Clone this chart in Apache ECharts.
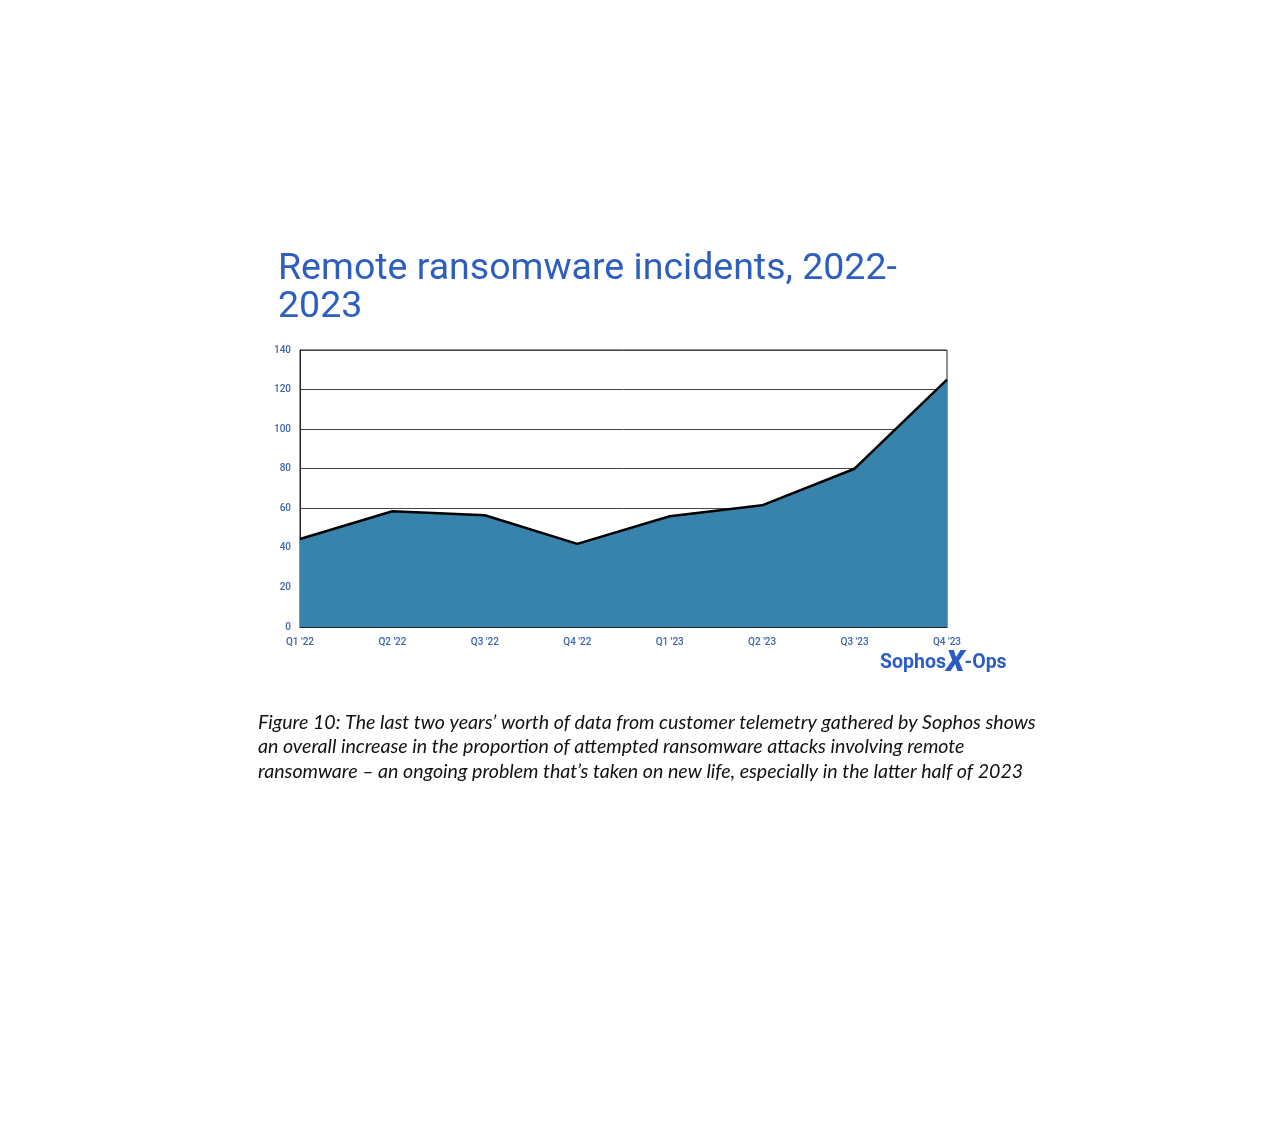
<!DOCTYPE html>
<html>
<head>
<meta charset="utf-8">
<script src="https://cdn.jsdelivr.net/npm/echarts@6/dist/echarts.min.js"></script>
<style>
html,body{margin:0;padding:0;background:#fff;}
#main{width:1278px;height:1124px;}
</style>
</head>
<body>
<div id="main"></div>
<script>
const categories = ["Q1 '22", "Q2 '22", "Q3 '22", "Q4 '22", "Q1 '23", "Q2 '23", "Q3 '23", "Q4 '23"];
const incidents = [44.5, 58.5, 56.5, 42, 56, 61.5, 80, 125];
const titleLines = ["Remote ransomware incidents, 2022-", "2023"];
const captionLines = [
  "Figure 10: The last two years\u2019 worth of data from customer telemetry gathered by Sophos shows",
  "an overall increase in the proportion of attempted ransomware attacks involving remote",
  "ransomware \u2013 an ongoing problem that\u2019s taken on new life, especially in the latter half of 2023"
];

const chart = echarts.init(document.getElementById('main'), null, {renderer: 'canvas'});
const blue = '#2e5fbf';
const labelBlue = '#3f64ae';

chart.setOption({
  backgroundColor: '#ffffff',
  animation: false,
  grid: {left: 300, right: 331, top: 350, bottom: 497, show: true, borderColor: '#222', borderWidth: 1, backgroundColor: 'transparent'},
  xAxis: {
    type: 'category',
    data: categories,
    boundaryGap: false,
    axisLine: {show: true, lineStyle: {color: '#222', width: 1}},
    axisTick: {show: false},
    axisLabel: {color: labelBlue, fontFamily: 'Roboto', fontSize: 10, fontWeight: 500, margin: 10, interval: 0}
  },
  yAxis: {
    type: 'value',
    min: 0, max: 140, interval: 20,
    axisLine: {show: true, lineStyle: {color: '#222', width: 1}},
    axisTick: {show: false},
    axisLabel: {color: labelBlue, fontFamily: 'Roboto', fontSize: 10, fontWeight: 500, margin: 9},
    splitLine: {show: true, lineStyle: {color: '#444', width: 1}}
  },
  series: [{
    type: 'line',
    data: incidents,
    symbol: 'none',
    lineStyle: {color: '#000', width: 2.5},
    areaStyle: {color: '#3783ab', opacity: 1},
    z: 3
  }],
  graphic: [
    {type: 'text', left: 278, top: 250, style: {text: titleLines.join('\n'), font: '37.5px "Roboto"', fill: blue, lineHeight: 38.5}},
    {type: 'text', left: 880, top: 648, style: {
      text: '{a|Sophos}{b|X}{a|-Ops}',
      rich: {
        a: {fontFamily: 'Roboto', fontSize: 19.5, fontWeight: 'bold', fill: '#2a5cc4'},
        b: {fontFamily: 'Roboto', fontSize: 30, fontWeight: 900, fontStyle: 'italic', fill: '#2a5cc4'}
      }
    }},
    {type: 'text', left: 258, top: 710, style: {text: captionLines.join('\n'), font: 'italic 19.6px "Lato"', fill: '#111', lineHeight: 24.5}}
  ]
});
</script>
</body>
</html>
